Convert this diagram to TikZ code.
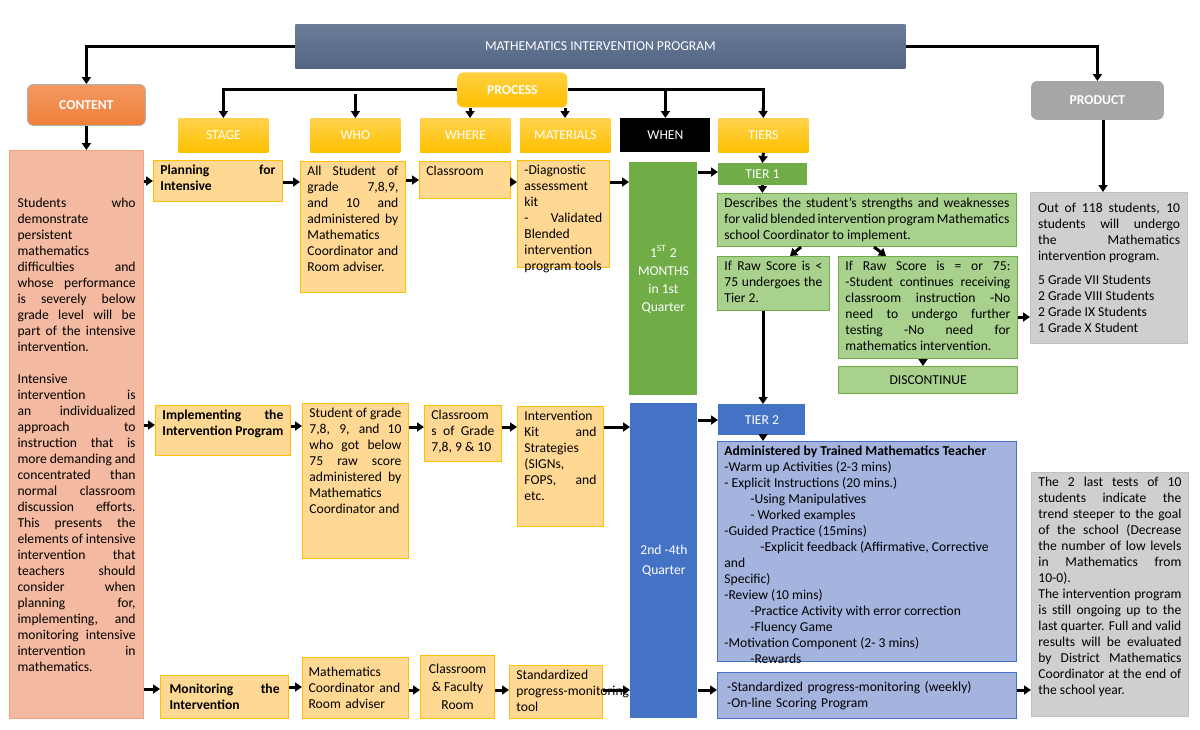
\documentclass[tikz,border=0pt]{standalone}
\usepackage{fontspec}
\setmainfont{Carlito}
\usetikzlibrary{arrows.meta}
\hyphenpenalty=10000
\exhyphenpenalty=10000
\definecolor{ttl}{HTML}{526585}
\definecolor{org}{HTML}{F07F3A}
\definecolor{ylw}{HTML}{FFC000}
\definecolor{lyl}{HTML}{FFD894}
\definecolor{pink}{HTML}{F4B9A1}
\definecolor{pinkb}{HTML}{F7A27D}
\definecolor{grn}{HTML}{70AD47}
\definecolor{lgrn}{HTML}{A9D18E}
\definecolor{blu}{HTML}{4472C4}
\definecolor{lblu}{HTML}{A4B4DF}
\definecolor{gry}{HTML}{D0CECE}
\definecolor{gryb}{HTML}{BFBFBF}
\definecolor{dgry}{HTML}{A6A6A6}
\newcommand\bx[7]{%
\node[#2, anchor=north west, inner sep=0pt, minimum width=\dimexpr(#5pt-#3pt)/2\relax, minimum height=\dimexpr(#6pt-#4pt)/2\relax] (#1) at (#3,#4) {};
\node[txt, anchor=north west, text width=\dimexpr(#5pt-#3pt)/2-7pt\relax] (#1t) at ([xshift=3.5pt,yshift=-2.5pt]#1.north west) {#7};}
\newcommand\cbx[7]{%
\node[#2, anchor=north west, inner sep=0pt, minimum width=\dimexpr(#5pt-#3pt)/2\relax, minimum height=\dimexpr(#6pt-#4pt)/2\relax] (#1) at (#3,#4) {};
\node[txt, align=center] (#1t) at (#1.center) {#7};}
\tikzset{
 txt/.style={inner sep=0pt, font=\fontsize{6.8}{8}\selectfont, align=justify},
 yb/.style={fill=lyl, draw=ylw, line width=0.6pt},
 hd/.style={top color=ylw!70!white, bottom color=ylw, draw=none},
 gb/.style={fill=lgrn, draw=grn, line width=0.6pt},
 bb/.style={fill=lblu, draw=blu, line width=0.6pt},
 gyb/.style={fill=gry, draw=gryb, line width=0.6pt},
 ar/.style={line width=1.5pt, -{Triangle[length=3.5pt,width=4.5pt]}},
 ln/.style={line width=1.5pt},
}
\begin{document}
\begin{tikzpicture}[x=0.5pt,y=-0.5pt]
\useasboundingbox[fill=white] (0,0) rectangle (1200,729);
% top level
\cbx{title}{top color=ttl!85!white, bottom color=ttl, draw=none}{295}{24}{905}{68}{\color{white}MATHEMATICS INTERVENTION PROGRAM}
\cbx{content}{top color=org!80!white, bottom color=org, draw=gray!60, rounded corners=3pt}{27}{84}{145}{125}{\color{white}\bfseries CONTENT}
\cbx{process}{top color=ylw!75!white, bottom color=ylw, draw=none, rounded corners=3pt}{457}{72}{567}{107}{\color{white}\bfseries PROCESS}
\cbx{product}{fill=dgry, draw=gray!70, rounded corners=3pt}{1031}{81}{1163}{119}{\color{white}\bfseries PRODUCT}
% headers
\cbx{stage}{hd}{178}{118}{268}{152}{\color{white}STAGE}
\cbx{who}{hd}{310}{118}{400}{152}{\color{white}WHO}
\cbx{where}{hd}{420}{118}{510}{152}{\color{white}WHERE}
\cbx{mat}{hd}{520}{118}{610}{152}{\color{white}MATERIALS}
\cbx{when}{fill=black}{620}{118}{710}{152}{\color{white}WHEN}
\cbx{tiers}{hd}{718}{118}{808}{152}{\color{white}TIERS}
% content
\node[fill=pink, draw=pinkb, line width=0.6pt, anchor=north west, inner sep=0pt, minimum width=67pt, minimum height=284pt] (ctext) at (9,150) {};
\node[txt, text width=59pt] (ctextt) at (ctext.center) {Students who demonstrate persistent mathematics difficulties and whose performance is severely below grade level will be part of the intensive intervention.\par\vspace{8pt}Intensive intervention is an individualized approach to instruction that is more demanding and concentrated than normal classroom discussion efforts. This presents the elements of intensive intervention that teachers should consider when planning for, implementing, and monitoring intensive intervention in mathematics.};
% row 1
\bx{plan}{yb}{153}{160}{282}{201}{\bfseries Planning for Intensive}
\bx{who1}{yb}{300}{161}{405}{292}{All Student of grade 7,8,9, and 10 and administered by Mathematics Coordinator and Room adviser.}
\bx{whr1}{yb}{419}{161}{510}{198}{Classroom}
\bx{mat1}{yb}{517}{160}{609}{267}{\raggedright -Diagnostic assessment kit\\- Validated Blended intervention program tools}
\cbx{green}{fill=grn, draw=none}{629}{162}{697}{395}{\color{white}1\textsuperscript{ST} 2\\[1pt]\color{white}MONTHS\\[1pt]\color{white}in 1st\\[1pt]\color{white}Quarter}
\cbx{tier1}{fill=grn, draw=grn}{718}{163}{806}{184}{\color{white}TIER 1}
\bx{desc}{gb}{717}{193}{1016}{246}{Describes the student’s strengths and weaknesses for valid blended intervention program Mathematics school Coordinator to implement.}
\bx{raw1}{gb}{717}{256}{829}{310}{If Raw Score is < 75 undergoes the Tier 2.}
\bx{raw2}{gb}{838}{256}{1017}{358}{If Raw Score is = or 75: -Student continues receiving classroom instruction -No need to undergo further testing -No need for mathematics intervention.}
\cbx{disc}{gb}{838}{366}{1017}{393}{DISCONTINUE}
\node[fill=gry, draw=gryb, line width=0.6pt, anchor=north west, inner sep=0pt, minimum width=78.5pt, minimum height=75.5pt] (prod1) at (1030,192) {};
\node[txt, text width=71pt] (prod1t) at (prod1.center) {Out of 118 students, 10 students will undergo the Mathematics intervention program.\par\vspace{4pt}\raggedright 5 Grade VII Students\\2 Grade VIII Students\\2 Grade IX Students\\1 Grade X Student};
% row 2
\bx{impl}{yb}{155}{405}{290}{455}{\bfseries Implementing the Intervention Program}
\bx{who2}{yb}{302}{403}{408}{558}{Student of grade 7,8, 9, and 10 who got below 75 raw score administered by Mathematics Coordinator and}
\bx{whr2}{yb}{424}{405}{501}{461}{\raggedright Classroom s of Grade 7,8, 9 \& 10}
\bx{mat2}{yb}{517}{406}{603}{526}{\raggedright Intervention Kit and Strategies (SIGNs, FOPS, and etc.}
\cbx{blue}{fill=blu, draw=none}{630}{403}{697}{718}{\color{white}2nd -4th\\[2pt]\color{white}Quarter}
\cbx{tier2}{fill=blu, draw=none}{718}{404}{805}{435}{\color{white}TIER 2}
\bx{adm}{bb}{717}{441}{1016}{661}{\raggedright\textbf{Administered by Trained Mathematics Teacher}\\
-Warm up Activities (2-3 mins)\\
- Explicit Instructions (20 mins.)\\
\hspace*{13pt}-Using Manipulatives\\
\hspace*{13pt}- Worked examples\\
-Guided Practice (15mins)\\
\hspace*{18pt}-Explicit feedback (Affirmative, Corrective and\\
Specific)\\
-Review (10 mins)\\
\hspace*{13pt}-Practice Activity with error correction\\
\hspace*{13pt}-Fluency Game\\
-Motivation Component (2- 3 mins)\\
\hspace*{13pt}-Rewards}
\bx{prod2}{gyb}{1031}{472}{1188}{716}{The 2 last tests of 10 students indicate the trend steeper to the goal of the school (Decrease the number of low levels in Mathematics from 10-0).\\The intervention program is still ongoing up to the last quarter. Full and valid results will be evaluated by District Mathematics Coordinator at the end of the school year.}
% row 3
\node[yb, anchor=north west, inner sep=0pt, minimum width=64pt, minimum height=21.5pt] (mon) at (160,675) {};
\node[txt, text width=55pt] (mont) at (mon.center) {\bfseries Monitoring the Intervention};
\node[yb, anchor=north west, inner sep=0pt, minimum width=53pt, minimum height=30.5pt] (who3) at (302,657) {};
\node[txt, text width=47pt, align=left] (who3t) at (who3.center) {Mathematics Coordinator and Room adviser};
\cbx{whr3}{yb}{420}{655}{494}{718}{Classroom\\[1pt]\& Faculty\\[1pt]Room}
\bx{mat3}{yb}{509}{665}{602}{718}{\raggedright Standardized progress-monitoring tool}
\node[bb, anchor=north west, inner sep=0pt, minimum width=149.5pt, minimum height=23pt] (std) at (717,672) {};
\node[txt, text width=140pt, align=left] (stdt) at (std.center) {-Standardized progress-monitoring (weekly)\\-On-line Scoring Program};
% connectors top
\draw[ar] (title.west) -| (content.north);
\draw[ar] (title.east) -| (product.north);
\draw[ar] (process.west) -| (stage.north);
\draw[ar] (who.north |- 0,94) -- (who.north);
\draw[ar] (process.south -| 470,0) -- (where.north -| 470,0);
\draw[ar] (process.south -| 565,0) -- (mat.north -| 565,0);
\draw[ar] (process.east) -| (when.north);
\draw[ln] (when.north |- process.east) -| (763,110);
\draw[ar] (763,108) -- (tiers.north);
\draw[ar] (content.south) -- (content.south |- ctext.north);
\draw[ar] (product.south -| 1103,0) -- (prod1.north -| 1103,0);
% row 1
\draw[ar] (ctext.east |- 0,181) -- (plan.west |- 0,181);
\draw[ar] (plan.east |- 0,182) -- (who1.west |- 0,182);
\draw[ar] (who1.east |- 0,180) -- (whr1.west |- 0,180);
\draw[ar] (whr1.east |- 0,182) -- (mat1.west |- 0,182);
\draw[ar] (mat1.east |- 0,182) -- (green.west |- 0,182);
\draw[ar] (green.east |- 0,172) -- (tier1.west |- 0,172);
\draw[ar] (tiers.south) -- (tier1.north);
\draw[ar] (tier1.south) -- (tier1.south |- desc.north);
\draw[ar] (801,247) -- (790,256);
\draw[ar] (874,247) -- (886,256);
\draw[ar] (raw1.south -| 763,0) -- (tier2.north -| 763,0);
\draw[ar] (raw2.south -| 923,0) -- (disc.north -| 923,0);
\draw[ar] (raw2.east |- 0,317) -- (prod1.west |- 0,317);
% row 2
\draw[ar] (ctext.east |- 0,425) -- (impl.west |- 0,425);
\draw[ar] (impl.east |- 0,426) -- (who2.west |- 0,426);
\draw[ar] (who2.east |- 0,427) -- (whr2.west |- 0,427);
\draw[ar] (whr2.east |- 0,427) -- (mat2.west |- 0,427);
\draw[ar] (mat2.east |- 0,427) -- (blue.west |- 0,427);
\draw[ar] (blue.east |- 0,420) -- (tier2.west |- 0,420);
\draw[ar] (tier2.south -| 763,0) -- (adm.north -| 763,0);
% row 3
\draw[ar] (ctext.east |- 0,689) -- (mon.west |- 0,689);
\draw[ar] (mon.east |- 0,687) -- (who3.west |- 0,687);
\draw[ar] (who3.east |- 0,690) -- (whr3.west |- 0,690);
\draw[ar] (whr3.east |- 0,690) -- (mat3.west |- 0,690);
\draw[ar] (mat3.east |- 0,690) -- (blue.west |- 0,690);
\draw[ar] (blue.east |- 0,690) -- (std.west |- 0,690);
\draw[ar] (std.east |- 0,690) -- (prod2.west |- 0,690);
\end{tikzpicture}
\end{document}
